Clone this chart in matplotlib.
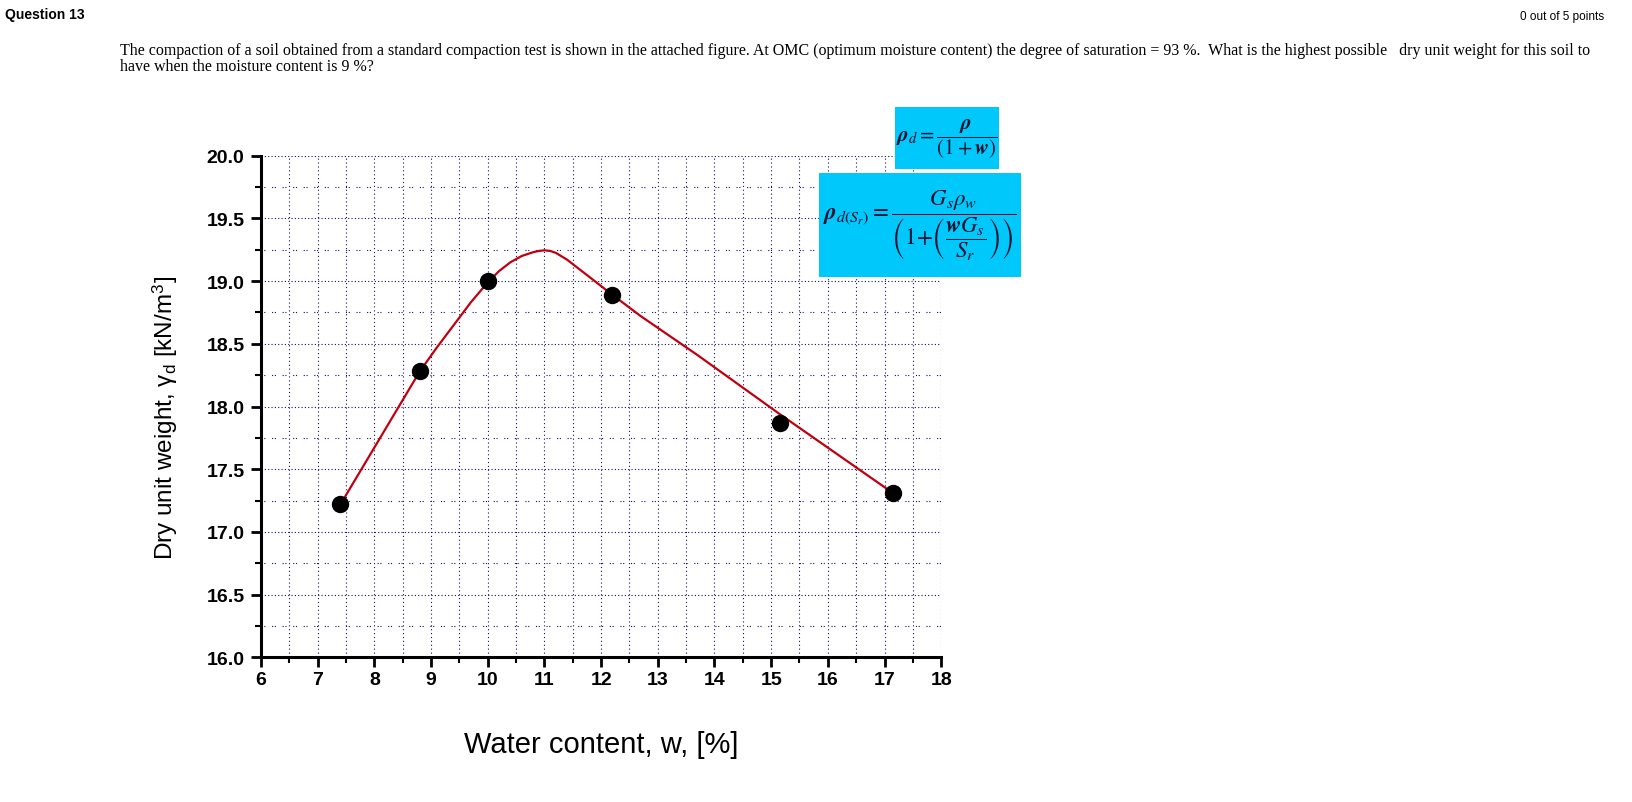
import matplotlib
matplotlib.use('Agg')
import matplotlib.pyplot as plt
from matplotlib.patches import Rectangle
from matplotlib.ticker import MultipleLocator, FormatStrFormatter

# measured compaction points
water = [7.4, 8.8, 10.0, 12.2, 15.15, 17.15]
gamma_d = [17.22, 18.28, 19.0, 18.89, 17.87, 17.31]

# fitted curve
curve_w = [7.4, 8.1, 8.8, 9.1, 9.4, 9.7, 10.0, 10.2, 10.4, 10.6, 10.8, 10.9, 11.0,
           11.1, 11.2, 11.4, 11.6, 11.8, 12.0, 12.2, 12.7, 13.7, 15.15, 17.15]
curve_g = [17.22, 17.75, 18.28, 18.47, 18.65, 18.83, 18.99, 19.08, 19.15, 19.20, 19.23,
           19.24, 19.245, 19.24, 19.225, 19.17, 19.10, 19.03, 18.96, 18.89, 18.72, 18.41,
           17.94, 17.31]

question = ("The compaction of a soil obtained from a standard compaction test is shown in the attached figure. "
            "At OMC (optimum moisture content) the degree of saturation = 93 %.  What is the highest possible   "
            "dry unit weight for this soil to")
question2 = "have when the moisture content is 9 %?"

plt.rcParams['mathtext.fontset'] = 'stix'

fig = plt.figure(figsize=(16.32, 8.03), dpi=100)
ax = fig.add_axes([0.160, 0.180, 0.4167, 0.625])

ax.plot(curve_w, curve_g, color='#c00010', lw=1.6, zorder=3, solid_joinstyle='round')
ax.plot(water, gamma_d, 'o', color='black', ms=11.5, zorder=4)

ax.set_xlim(6, 18)
ax.set_ylim(16, 20)
ax.xaxis.set_major_locator(MultipleLocator(1))
ax.xaxis.set_minor_locator(MultipleLocator(0.5))
ax.yaxis.set_major_locator(MultipleLocator(0.5))
ax.yaxis.set_minor_locator(MultipleLocator(0.25))
ax.yaxis.set_major_formatter(FormatStrFormatter('%.1f'))

gcol = '#141460'
ax.grid(True, axis='x', which='both', color=gcol, lw=0.8, linestyle=(0, (1, 2.5)))
ax.grid(True, axis='y', which='major', color=gcol, lw=0.8, linestyle=(0, (1, 2)))
ax.grid(True, axis='y', which='minor', color=gcol, lw=0.8, linestyle=(0, (1, 1.5, 1, 6)))
ax.set_axisbelow(True)

for s in ['top', 'right']:
    ax.spines[s].set_visible(False)
for s in ['left', 'bottom']:
    ax.spines[s].set_linewidth(2.2)

ax.tick_params(which='major', direction='out', length=7, width=2, pad=3)
ax.tick_params(axis='y', which='major', pad=5)
ax.tick_params(which='minor', direction='out', length=4, width=1.5)
for lab in ax.get_xticklabels() + ax.get_yticklabels():
    lab.set_fontfamily('Liberation Sans')
    lab.set_fontweight('bold')
    lab.set_fontsize(14)

ax.set_xlabel('Water content, w, [%]', fontsize=21, family='Liberation Sans')
ax.xaxis.set_label_coords(0.5, -0.145)
ax.set_ylabel(r'Dry unit weight, $\mathregular{\gamma_d}$ [kN/m$^\mathregular{3}$]',
              fontsize=17.5, family='Liberation Sans')
ax.yaxis.set_label_coords(-0.119, 0.48)

# header texts
fig.text(5 / 1632, 1 - 15 / 803, 'Question 13', fontsize=10, fontweight='bold',
         family='Liberation Sans', va='center', ha='left')
fig.text(1604 / 1632, 1 - 17 / 803, '0 out of 5 points', fontsize=8.5,
         family='Liberation Sans', va='center', ha='right')
fig.text(120 / 1632, 1 - 51 / 803, question, fontsize=11.55, family='Liberation Serif',
         va='center', ha='left')
fig.text(120 / 1632, 1 - 67 / 803, question2, fontsize=11.55, family='Liberation Serif',
         va='center', ha='left')

# formula boxes
cyan = '#00c8fa'
b1 = (895, 108, 999, 170)
b2 = (819, 174, 1021, 278)
for (x0, y0, x1, y1) in [b1, b2]:
    fig.patches.append(Rectangle((x0 / 1632, 1 - y1 / 803), (x1 - x0) / 1632, (y1 - y0) / 803,
                                 transform=fig.transFigure, facecolor=cyan, edgecolor='none',
                                 zorder=5))
fig.text((b1[0] + b1[2]) / 2 / 1632, 1 - (b1[1] + b1[3]) / 2 / 803,
         r'$\boldsymbol{\rho}_d = \dfrac{\boldsymbol{\rho}}{(1 + \boldsymbol{w})}$',
         fontsize=15, ha='center', va='center', color='#101030', zorder=6)
fig.text((b2[0] + b2[2]) / 2 / 1632, 1 - (b2[1] + b2[3]) / 2 / 803,
         r'$\boldsymbol{\rho}_{d(S_r)} = \dfrac{\boldsymbol{G_s\rho_w}}'
         r'{\left(1{+}\left(\dfrac{\boldsymbol{wG_s}}{\boldsymbol{S_r}}\right)\right)}$',
         fontsize=16.5, ha='center', va='center', color='#101030', zorder=6)

fig.savefig('out.png', dpi=100)
